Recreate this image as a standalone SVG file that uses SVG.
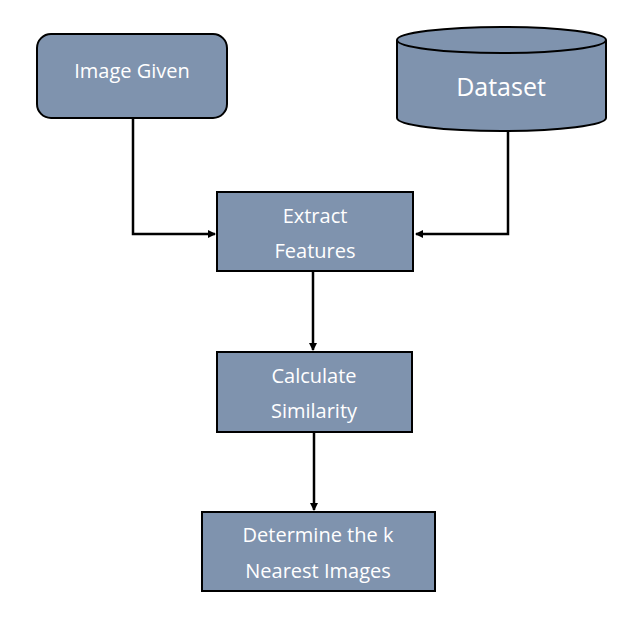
<svg xmlns="http://www.w3.org/2000/svg" width="641" height="628" viewBox="0 0 641 628">
<style>
.n{fill:#7f93ae;stroke:#000;stroke-width:2}
.t{fill:#fff;font-family:"Open Sans","Liberation Sans",sans-serif;font-size:20px;text-anchor:middle}
.c{fill:none;stroke:#000;stroke-width:2.5}
</style>
<defs><marker id="a" markerWidth="8" markerHeight="8" refX="7" refY="4" orient="auto" markerUnits="userSpaceOnUse"><path d="M0,0L8,4L0,8z" fill="#000"/></marker></defs>
<rect width="641" height="628" fill="#fff"/>
<g id="connectors">
<path class="c" d="M133,118V234H215" marker-end="url(#a)"/>
<path class="c" d="M508,132V234H416" marker-end="url(#a)"/>
<path class="c" d="M313,271V350" marker-end="url(#a)"/>
<path class="c" d="M314,432V510" marker-end="url(#a)"/>
</g>
<g id="image-given"><rect class="n" x="37" y="34" width="190" height="84" rx="14"/><text class="t" x="132" y="78" font-size="23">Image Given</text></g>
<g id="dataset"><path class="n" d="M397,40V118A104.5,13 0 0 0 606,118V40"/><ellipse class="n" cx="501.5" cy="40" rx="104.5" ry="13"/><text class="t" x="501" y="96" style="font-size:25px">Dataset</text></g>
<g id="extract"><rect class="n" x="217" y="192" width="196" height="79"/><text class="t" x="315" y="223">Extract</text><text class="t" x="315" y="258">Features</text></g>
<g id="calc"><rect class="n" x="217" y="352" width="195" height="80"/><text class="t" x="314" y="383">Calculate</text><text class="t" x="314" y="418">Similarity</text></g>
<g id="determine"><rect class="n" x="202" y="512" width="233" height="79"/><text class="t" x="318" y="542">Determine the k</text><text class="t" x="318" y="578">Nearest Images</text></g>
</svg>
